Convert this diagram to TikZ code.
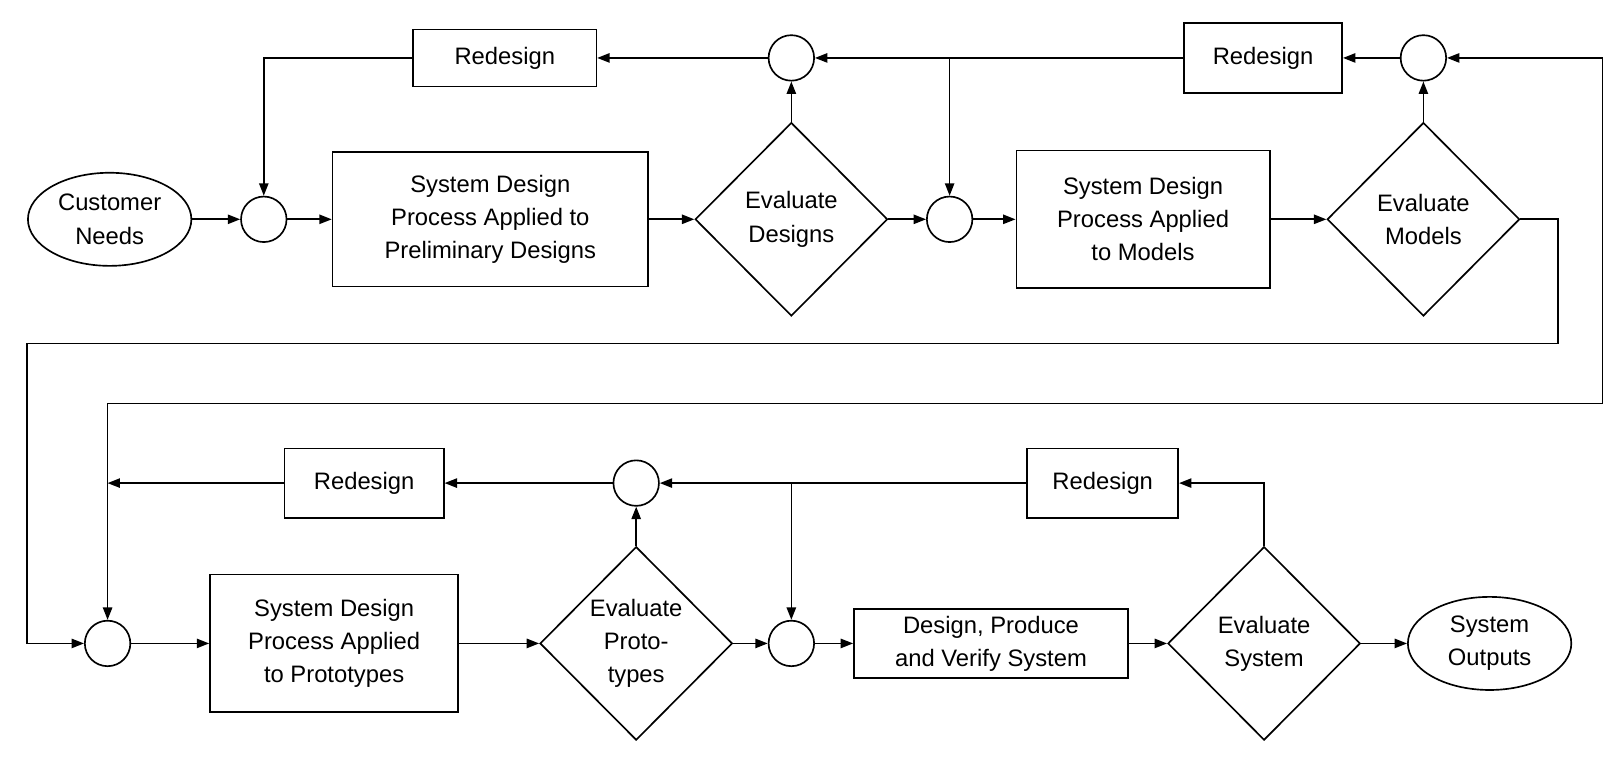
\documentclass[tikz,border=0pt]{standalone}
\usepackage{fontspec}
\setmainfont{Liberation Sans}
\usetikzlibrary{shapes.geometric,arrows.meta}
\begin{document}
\begin{tikzpicture}[x=1pt,y=-1pt,line width=1.6pt,
  every node/.style={font=\fontsize{23}{32}\selectfont,align=center},
  bx/.style={draw,rectangle,inner sep=0},
  dm/.style={draw,diamond,minimum width=186pt,minimum height=187pt,inner sep=0},
  cr/.style={draw,circle,minimum size=44pt,inner sep=0},
  el/.style={draw,ellipse,minimum width=158pt,minimum height=90pt,inner sep=0},
  ar/.style={-{Triangle[length=12pt,width=9pt]}}]
\useasboundingbox (0,0) rectangle (1568,740);
% top row
\node[el] (cn) at (106,212) {Customer\\Needs};
\node[cr] (c1) at (255,212) {};
\node[bx,minimum width=305pt,minimum height=130pt] (b1) at (474,212) {System Design\\Process Applied to\\Preliminary Designs};
\node[dm] (d1) at (765,212) {Evaluate\\Designs};
\node[cr] (c2) at (918,212) {};
\node[bx,minimum width=245pt,minimum height=133pt] (b2) at (1105,212) {System Design\\Process Applied\\to Models};
\node[dm] (d2) at (1376,212) {Evaluate\\Models};
\node[bx,minimum width=177pt,minimum height=55pt] (r1) at (488,56) {Redesign};
\node[cr] (c3) at (765,56) {};
\node[bx,minimum width=153pt,minimum height=68pt] (r2) at (1221,56) {Redesign};
\node[cr] (c4) at (1376,56) {};
% bottom row
\node[cr] (c5) at (104,622) {};
\node[bx,minimum width=240pt,minimum height=133pt] (b3) at (323,622) {System Design\\Process Applied\\to Prototypes};
\node[dm] (d3) at (615,622) {Evaluate\\Proto-\\types};
\node[cr] (c6) at (765,622) {};
\node[bx,minimum width=265pt,minimum height=67pt] (b4) at (958,622) {Design, Produce\\and Verify System};
\node[dm] (d4) at (1222,622) {Evaluate\\System};
\node[el] (so) at (1440,622) {System\\Outputs};
\node[cr] (c7) at (615,467) {};
\node[bx,minimum width=154pt,minimum height=67pt] (r3) at (352,467) {Redesign};
\node[bx,minimum width=146pt,minimum height=67pt] (r4) at (1066,467) {Redesign};
% chain arrows
\draw[ar] (cn) -- (c1); \draw[ar] (c1) -- (b1.west|-c1); \draw[ar] (b1.east|-c1) -- (d1.west);
\draw[ar] (d1.east) -- (c2); \draw[ar] (c2) -- (b2.west|-c2); \draw[ar] (b2.east|-c2) -- (d2.west);
\draw[ar] (c5) -- (b3.west|-c5); \draw[ar] (b3.east|-c5) -- (d3.west); \draw[ar] (d3.east) -- (c6);
\draw[ar] (c6) -- (b4.west|-c6); \draw[ar] (b4.east|-c6) -- (d4.west); \draw[ar] (d4.east) -- (so);
% top feedback
\draw[ar] (d1.north) -- (c3); \draw[ar] (c3) -- (r1); \draw[ar] (r1.west) -| (c1.north);
\draw[ar] (r2.west) -- (c3); \draw[ar] (918,56) -- (c2.north);
\draw[ar] (d2.north) -- (c4); \draw[ar] (c4) -- (r2);
% crossing lines
\coordinate (e1) at (1506,212);
\draw[ar] (d2.east) -- (e1) -- (1506,332) -- (26,332) -- (26,622) -- (c5.west);
\draw[ar] (104,390) -- (c5.north);
\draw[ar] (104,390) -- (1549,390) -- (1549,56) -- (c4.east);
% bottom feedback
\draw[ar] (d3.north) -- (c7); \draw[ar] (c7) -- (r3); \draw[ar] (r3.west) -- (104,467);
\draw[ar] (r4.west) -- (c7); \draw[ar] (765,467) -- (c6.north);
\draw[ar] (d4.north) |- (r4.east);
\end{tikzpicture}
\end{document}
